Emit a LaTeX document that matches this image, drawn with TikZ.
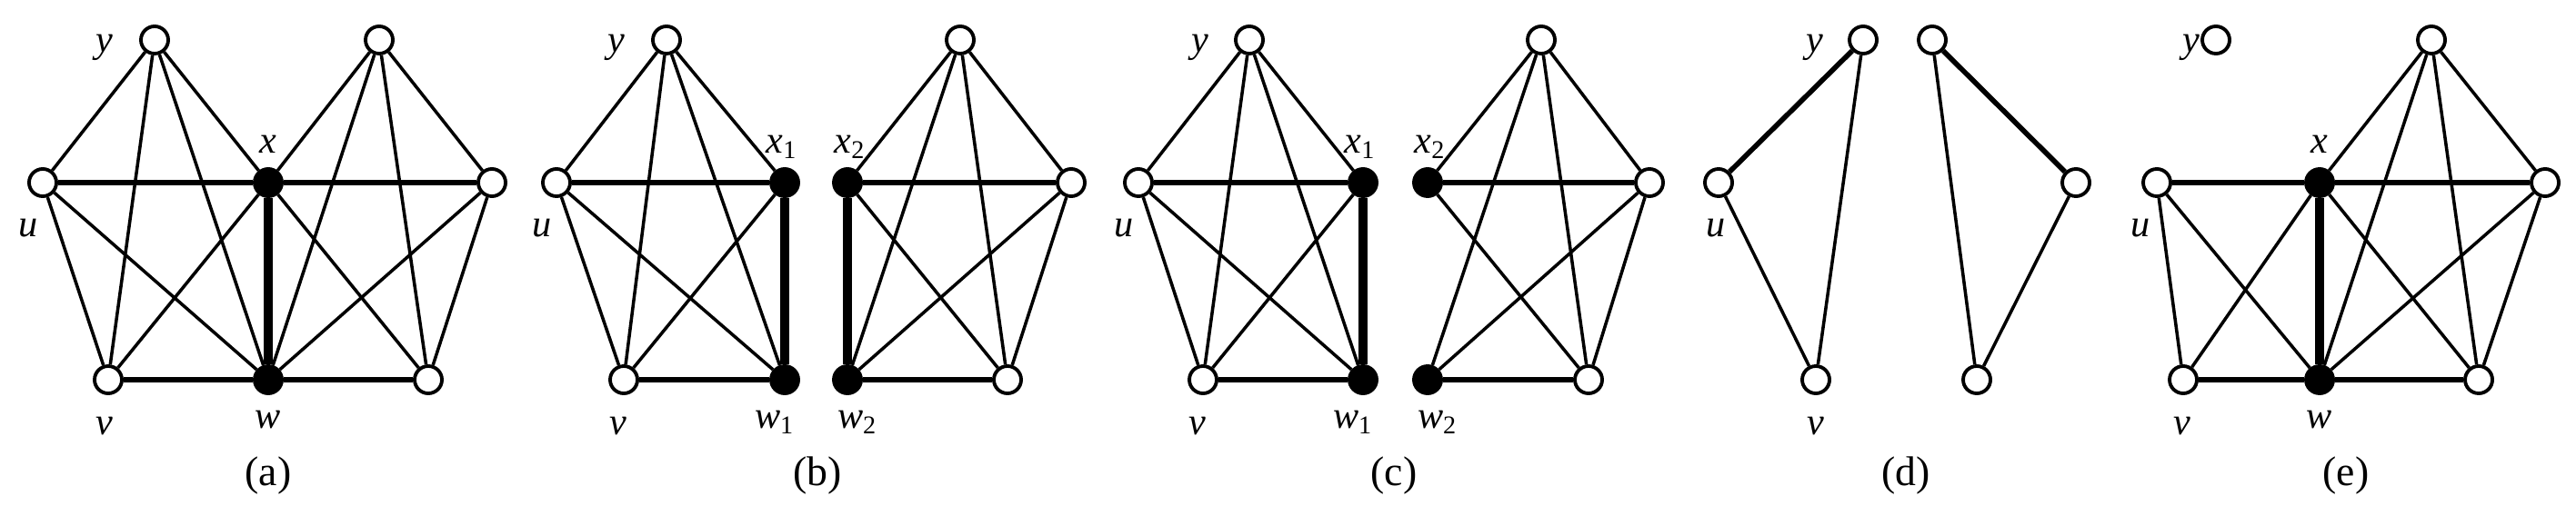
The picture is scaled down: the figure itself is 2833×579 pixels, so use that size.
\documentclass[tikz,border=0pt]{standalone}
\usepackage{fontspec}
\setmainfont{Liberation Serif}
\begin{document}
\begin{tikzpicture}[x=0.01cm,y=-0.01cm,
  vo/.style={circle,draw,line width=1.1pt,fill=white,minimum size=0.3cm,inner sep=0pt},
  vb/.style={circle,draw,line width=1.1pt,fill=black,minimum size=0.3cm,inner sep=0pt},
  ed/.style={line width=1.0pt},
  eh/.style={line width=1.6pt},
  ek/.style={line width=2.6pt},
  lb/.style={font=\fontsize{12}{14}\selectfont\itshape,inner sep=0pt},
  captxt/.style={font=\fontsize{13}{15}\selectfont,inner sep=0pt}]
\useasboundingbox (0,0) rectangle (2833,579);
% ---------- (a)
\node[vo] (ay) at (170,44) {};
\node[vo] (at) at (417,44) {};
\node[vo] (au) at (47,201) {};
\node[vb] (ax) at (295,201) {};
\node[vo] (ar) at (541,201) {};
\node[vo] (av) at (119,418) {};
\node[vb] (aw) at (295,418) {};
\node[vo] (ab) at (471,418) {};
\draw[ed] (ay)--(au) (ay)--(av) (ay)--(aw) (ay)--(ax) (au)--(aw) (au)--(av) (av)--(ax)
  (at)--(ax) (at)--(ar) (at)--(aw) (at)--(ab) (ax)--(ab) (ar)--(aw) (ar)--(ab);
\draw[eh] (au)--(ax) (ax)--(ar) (av)--(aw) (aw)--(ab);
\draw[ek] (ax)--(aw);
\node[lb] (lay) at (115,52) {y};
\node[lb] (lau) at (31,251) {u};
\node[lb] (lax) at (295,159) {x};
\node[lb] (lav) at (115,469) {v};
\node[lb] (law) at (295,462) {w};
\node[captxt] (ca) at (295,524) {(a)};
% ---------- (b)
\node[vo] (by) at (733,44) {};
\node[vo] (bu) at (612,201) {};
\node[vb] (bx) at (863,201) {};
\node[vo] (bv) at (686,418) {};
\node[vb] (bw) at (863,418) {};
\node[vb] (bx2) at (932,201) {};
\node[vo] (bt) at (1056,44) {};
\node[vo] (br) at (1178,201) {};
\node[vb] (bw2) at (932,418) {};
\node[vo] (bb) at (1108,418) {};
\draw[ed] (by)--(bu) (by)--(bv) (by)--(bw) (by)--(bx) (bu)--(bw) (bu)--(bv) (bv)--(bx)
  (bt)--(bx2) (bt)--(br) (bt)--(bw2) (bt)--(bb) (bx2)--(bb) (br)--(bw2) (br)--(bb);
\draw[eh] (bu)--(bx) (bx2)--(br) (bv)--(bw) (bw2)--(bb);
\draw[ek] (bx)--(bw) (bx2)--(bw2);
\node[lb] (lby) at (678,52) {y};
\node[lb] (lbu) at (596,251) {u};
\node[lb] (lbx) at (860,162) {x\textsubscript{\upshape 1}};
\node[lb] (lbx2) at (935,162) {x\textsubscript{\upshape 2}};
\node[lb] (lbv) at (680,469) {v};
\node[lb] (lbw) at (852,465) {w\textsubscript{\upshape 1}};
\node[lb] (lbw2) at (943,465) {w\textsubscript{\upshape 2}};
\node[captxt] (cb) at (899,524) {(b)};
% ---------- (c)
\node[vo] (cy) at (1374,44) {};
\node[vo] (cu) at (1252,201) {};
\node[vb] (cx) at (1499,201) {};
\node[vo] (cv) at (1323,418) {};
\node[vb] (cw) at (1499,418) {};
\node[vb] (cx2) at (1570,201) {};
\node[vo] (ct) at (1695,44) {};
\node[vo] (cr) at (1814,201) {};
\node[vb] (cw2) at (1570,418) {};
\node[vo] (cb2) at (1747,418) {};
\draw[ed] (cy)--(cu) (cy)--(cv) (cy)--(cw) (cy)--(cx) (cu)--(cw) (cu)--(cv) (cv)--(cx)
  (ct)--(cx2) (ct)--(cr) (ct)--(cw2) (ct)--(cb2) (cx2)--(cb2) (cr)--(cw2) (cr)--(cb2);
\draw[eh] (cu)--(cx) (cx2)--(cr) (cv)--(cw) (cw2)--(cb2);
\draw[ek] (cx)--(cw);
\node[lb] (lcy) at (1320,52) {y};
\node[lb] (lcu) at (1236,251) {u};
\node[lb] (lcx) at (1496,162) {x\textsubscript{\upshape 1}};
\node[lb] (lcx2) at (1573,162) {x\textsubscript{\upshape 2}};
\node[lb] (lcv) at (1317,469) {v};
\node[lb] (lcw) at (1488,465) {w\textsubscript{\upshape 1}};
\node[lb] (lcw2) at (1581,465) {w\textsubscript{\upshape 2}};
\node[captxt] (cc) at (1533,524) {(c)};
% ---------- (d)
\node[vo] (dy) at (2049,44) {};
\node[vo] (du) at (1890,201) {};
\node[vo] (dv) at (1997,418) {};
\node[vo] (dt) at (2125,44) {};
\node[vo] (dr) at (2283,201) {};
\node[vo] (db) at (2174,418) {};
\draw[ed] (dy)--(dv) (du)--(dv) (dt)--(db) (dr)--(db);
\draw[eh] (dy)--(du) (dt)--(dr);
\node[lb] (ldy) at (1996,52) {y};
\node[lb] (ldu) at (1887,251) {u};
\node[lb] (ldv) at (1997,469) {v};
\node[captxt] (cd) at (2096,524) {(d)};
% ---------- (e)
\node[vo] (ey) at (2437,44) {};
\node[vo] (et) at (2674,44) {};
\node[vo] (eu) at (2372,201) {};
\node[vb] (ex) at (2551,201) {};
\node[vo] (er) at (2799,201) {};
\node[vo] (ev) at (2401,418) {};
\node[vb] (ew) at (2551,418) {};
\node[vo] (eb) at (2726,418) {};
\draw[ed] (eu)--(ew) (eu)--(ev) (ev)--(ex)
  (et)--(ex) (et)--(er) (et)--(ew) (et)--(eb) (ex)--(eb) (er)--(ew) (er)--(eb);
\draw[eh] (eu)--(ex) (ex)--(er) (ev)--(ew) (ew)--(eb);
\draw[ek] (ex)--(ew);
\node[lb] (ley) at (2410,52) {y};
\node[lb] (leu) at (2354,251) {u};
\node[lb] (lex) at (2551,159) {x};
\node[lb] (lev) at (2400,469) {v};
\node[lb] (lew) at (2551,462) {w};
\node[captxt] (ce) at (2580,524) {(e)};
\end{tikzpicture}
\end{document}
